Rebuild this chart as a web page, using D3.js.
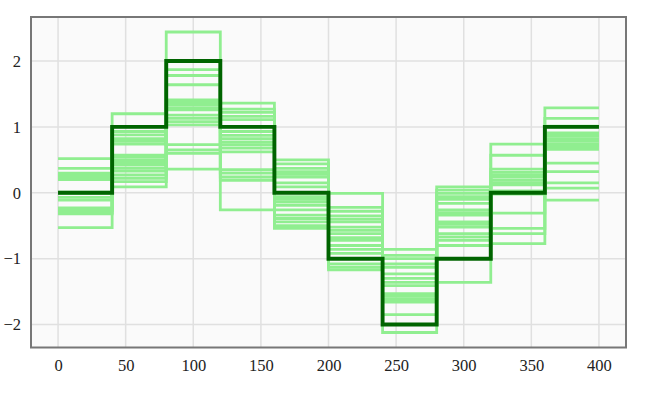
<!DOCTYPE html>
<html>
<head>
<meta charset="utf-8">
<script src="https://cdn.jsdelivr.net/npm/d3@7"></script>
<style>
  body { margin: 0; background: #fff; }
  svg text { font-family: "Liberation Serif", "DejaVu Serif", serif; font-size: 16.5px; fill: #222; }
</style>
</head>
<body>
<div id="chart"></div>
<script>
// step boundaries (x) and the true level of each segment
const xBreaks = [0, 40, 80, 120, 160, 200, 240, 280, 320, 360, 400];
const baseLevels = [0, 1, 2, 1, 0, -1, -2, -1, 0, 1];

// noisy copies, one row per line, one value per segment
const noisyLines = [
  [-0.53, 1.20, 2.44, 1.36, 0.50, -1.17, -0.95, -1.36, 0.74, 0.86],
  [0.52, 0.42, 0.36, -0.26, 0.44, -0.86, -2.12, 0.09, 0.27, 1.29],
  [0.37, 0.93, 1.87, 1.11, -0.54, -0.01, -0.86, -0.16, -0.77, 1.00],
  [0.30, 0.09, 0.60, 0.82, -0.06, -0.72, -1.53, -0.44, 0.57, 0.15],
  [0.27, 0.78, 1.33, 0.24, 0.15, -0.40, -1.36, -0.62, -0.02, 0.70],
  [0.25, 0.57, 1.03, 1.22, -0.19, -0.52, -1.61, -0.01, 0.31, 0.45],
  [0.22, 0.33, 1.78, 0.68, 0.37, -1.08, -1.00, -0.72, 0.12, 0.82],
  [0.20, 1.00, 1.26, 0.35, -0.34, -0.28, -1.85, -0.26, -0.31, 0.07],
  [0.01, 0.74, 2.00, 0.87, 0.28, -0.62, -1.13, 0.04, 0.24, 1.13],
  [-0.01, 0.50, 1.13, 0.19, -0.44, -0.92, -1.57, -0.52, 0.36, 0.66],
  [-0.07, 0.88, 0.73, 1.27, 0.09, -0.22, -1.30, -0.80, 0.03, -0.11],
  [-0.11, 0.22, 1.41, 0.77, -0.50, -0.80, -1.66, -0.30, 0.19, 0.78],
  [-0.23, 0.54, 1.64, 1.00, -0.10, -1.13, -1.23, -0.48, -0.54, 0.91],
  [-0.25, 0.17, 1.18, 0.30, 0.32, -0.35, -2.00, -0.10, 0.15, 0.32],
  [-0.27, 0.82, 1.29, 1.16, -0.39, -0.57, -1.08, -0.67, -0.01, 0.88],
  [-0.30, 0.46, 0.65, 0.73, 0.24, -1.00, -1.41, -0.34, 0.00, 0.74],
  [-0.32, 0.27, 1.37, 0.62, -0.14, -0.68, -1.55, -1.00, -0.62, 1.01],
  [0.00, 0.37, 1.08, 0.93, -0.26, -0.44, -1.63, -0.06, 0.02, 0.72]
];

const xTicks = [0, 50, 100, 150, 200, 250, 300, 350, 400];
const yTicks = [-2, -1, 0, 1, 2];

const width = 648;
const height = 394;
const margin = { top: 17, right: 22, bottom: 46.5, left: 31 };

// segment values -> step points, last value repeated at the end
function toPoints(levels) {
  const pts = levels.map((v, i) => [xBreaks[i], v]);
  pts.push([xBreaks[xBreaks.length - 1], levels[levels.length - 1]]);
  return pts;
}

const allVals = noisyLines.flat().concat(baseLevels);
const yMin = d3.min(allVals);
const yMax = d3.max(allVals);
const yPad = (yMax - yMin) * 0.05;
const xPad = 400 * 0.05;

const x = d3.scaleLinear()
  .domain([0 - xPad, 400 + xPad])
  .range([margin.left, width - margin.right]);
const y = d3.scaleLinear()
  .domain([yMin - yPad, yMax + yPad])
  .range([height - margin.bottom, margin.top]);

const svg = d3.select('#chart').append('svg')
  .attr('width', width)
  .attr('height', height);

svg.append('rect')
  .attr('x', margin.left)
  .attr('y', margin.top)
  .attr('width', width - margin.left - margin.right)
  .attr('height', height - margin.top - margin.bottom)
  .attr('fill', '#fafafa');

// grid
svg.append('g').selectAll('line')
  .data(xTicks)
  .join('line')
  .attr('x1', (d) => x(d)).attr('x2', (d) => x(d))
  .attr('y1', margin.top).attr('y2', height - margin.bottom)
  .attr('stroke', '#e0e0e0').attr('stroke-width', 1.5);
svg.append('g').selectAll('line')
  .data(yTicks)
  .join('line')
  .attr('y1', (d) => y(d)).attr('y2', (d) => y(d))
  .attr('x1', margin.left).attr('x2', width - margin.right)
  .attr('stroke', '#e0e0e0').attr('stroke-width', 1.5);

const plot = svg.append('g');

const line = d3.line()
  .x((d) => x(d[0]))
  .y((d) => y(d[1]))
  .curve(d3.curveStepAfter);

plot.selectAll('path.noisy')
  .data(noisyLines)
  .join('path')
  .attr('class', 'noisy')
  .attr('d', (d) => line(toPoints(d)))
  .attr('fill', 'none')
  .attr('stroke', 'lightgreen')
  .attr('stroke-width', 2.8);

plot.append('path')
  .attr('d', line(toPoints(baseLevels)))
  .attr('fill', 'none')
  .attr('stroke', 'darkgreen')
  .attr('stroke-width', 3.9);

// axes, labels only (no tick marks)
const fmt = (d) => (d < 0 ? '\u2212' + Math.abs(d) : String(d));

const xAxis = svg.append('g')
  .attr('transform', `translate(0,${height - margin.bottom})`)
  .call(d3.axisBottom(x).tickValues(xTicks).tickSize(0).tickPadding(12).tickFormat(fmt));
const yAxis = svg.append('g')
  .attr('transform', `translate(${margin.left},0)`)
  .call(d3.axisLeft(y).tickValues(yTicks).tickSize(0).tickPadding(10).tickFormat(fmt));
[xAxis, yAxis].forEach((a) => {
  a.select('.domain').remove();
  a.selectAll('text').attr('font-family', null).attr('font-size', null);
});

svg.append('rect')
  .attr('x', margin.left)
  .attr('y', margin.top)
  .attr('width', width - margin.left - margin.right)
  .attr('height', height - margin.top - margin.bottom)
  .attr('fill', 'none')
  .attr('stroke', '#777')
  .attr('stroke-width', 2);
</script>
</body>
</html>
